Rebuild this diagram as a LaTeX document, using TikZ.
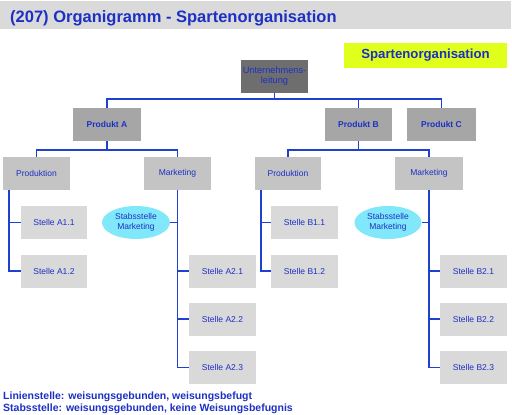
\documentclass[tikz,border=0pt]{standalone}
\usepackage{fontspec}
\setmainfont{Liberation Sans}
\usetikzlibrary{shapes.geometric}
\definecolor{tblue}{RGB}{28,48,196}
\definecolor{lblue}{RGB}{32,64,208}
\definecolor{ulgray}{RGB}{110,110,110}
\definecolor{pgray}{RGB}{166,166,166}
\definecolor{mgray}{RGB}{196,196,196}
\definecolor{sgray}{RGB}{217,217,217}
\definecolor{barg}{RGB}{218,218,218}
\definecolor{ycol}{RGB}{224,255,26}
\definecolor{cyanc}{RGB}{128,232,250}
\tikzset{
  box/.style={inner sep=0pt, minimum height=33pt, text=tblue, font=\fontsize{8.5}{10}\selectfont, align=center},
  ulbox/.style={box, fill=ulgray, minimum width=67pt, font=\fontsize{9.2}{10}\selectfont},
  prodbox/.style={box, fill=pgray, minimum width=68pt, font=\bfseries\fontsize{8.5}{10}\selectfont},
  deptbox/.style={box, fill=mgray, minimum width=67pt},
  stellebox/.style={box, fill=sgray, minimum width=67pt},
  stabs/.style={ellipse, fill=cyanc, inner sep=0pt, minimum width=68pt, minimum height=33pt, text=tblue, font=\fontsize{8.5}{10}\selectfont, align=center},
  conn/.style={draw=lblue, line width=1.8pt},
}
\begin{document}
\begin{tikzpicture}[x=1pt,y=-1pt]
\useasboundingbox (0,0) rectangle (512,415);
% title bar
\fill[barg] (0,1) rectangle (511,29);
\node[anchor=base west, inner sep=0pt, text=tblue, font=\bfseries\fontsize{16.5}{18}\selectfont] (title) at (10,22) {(207) Organigramm - Spartenorganisation};
% yellow label
\node[fill=ycol, minimum width=163pt, minimum height=25pt, inner sep=0pt, text=tblue, font=\bfseries\fontsize{13.2}{15}\selectfont] (sparte) at (425.5,55.5) {Spartenorganisation};
% top
\node[ulbox] (UL) at (274.5,76.5) {Unternehmens-\\leitung};
\node[prodbox] (PA) at (107,124.5) {Produkt A};
\node[prodbox, minimum width=67pt] (PB) at (358.5,124.5) {Produkt B};
\node[prodbox, minimum width=69pt] (PC) at (441.5,124.5) {Produkt C};
% departments
\node[deptbox] (ProdA) at (36.5,173.5) {Produktion};
\node[deptbox] (MarkA) at (177.5,173.5) {Marketing};
\node[deptbox, minimum width=66pt] (ProdB) at (288,173.5) {Produktion};
\node[deptbox, minimum width=68pt] (MarkB) at (429,173.5) {Marketing};
% Stellen A
\node[stellebox, minimum width=66pt] (A11) at (54,222.5) {Stelle A1.1};
\node[stellebox, minimum width=66pt] (A12) at (54,271) {Stelle A1.2};
\node[stabs] (SA) at (136,222.5) {Stabsstelle\\Marketing};
\node[stellebox] (A21) at (222.5,271) {Stelle A2.1};
\node[stellebox] (A22) at (222.5,319) {Stelle A2.2};
\node[stellebox] (A23) at (222.5,367.5) {Stelle A2.3};
% Stellen B
\node[stellebox] (B11) at (304.5,222.5) {Stelle B1.1};
\node[stellebox] (B12) at (304.5,271) {Stelle B1.2};
\node[stabs, minimum width=67pt] (SB) at (388,222.5) {Stabsstelle\\Marketing};
\node[stellebox] (B21) at (473.5,271) {Stelle B2.1};
\node[stellebox] (B22) at (473.5,319) {Stelle B2.2};
\node[stellebox] (B23) at (473.5,367.5) {Stelle B2.3};
% bus coordinates
\coordinate (bus1) at (274.5,99);
\coordinate (busA) at (107,150);
\coordinate (busB) at (358.5,150);
\coordinate (pa) at (9,190);
\coordinate (pb) at (261,190);
% connectors level 1
\draw[conn] (UL.south) -- (bus1);
\draw[conn] (PA.north) -- (PA.north |- bus1) -- (PC.north |- bus1) -- (PC.north);
\draw[conn] (PB.north) -- (PB.north |- bus1);
% level 2
\draw[conn] (PA.south) -- (busA);
\draw[conn] (ProdA.north) -- (ProdA.north |- busA) -- (MarkA.north |- busA) -- (MarkA.north);
\draw[conn] (PB.south) -- (busB);
\draw[conn] (ProdB.north) -- (ProdB.north |- busB) -- (MarkB.north |- busB) -- (MarkB.north);
% Produktion A
\draw[conn] (pa) |- (A12.west);
\draw[conn] (pa |- A11.west) -- (A11.west);
% Marketing A
\draw[conn] (MarkA.south) |- (A23.west);
\draw[conn] (MarkA.south |- A21.west) -- (A21.west);
\draw[conn] (MarkA.south |- A22.west) -- (A22.west);
\draw[conn] (MarkA.south |- SA.east) -- (SA.east);
% Produktion B
\draw[conn] (pb) |- (B12.west);
\draw[conn] (pb |- B11.west) -- (B11.west);
% Marketing B
\draw[conn] (MarkB.south) |- (B23.west);
\draw[conn] (MarkB.south |- B21.west) -- (B21.west);
\draw[conn] (MarkB.south |- B22.west) -- (B22.west);
\draw[conn] (MarkB.south |- SB.east) -- (SB.east);
% footer
\node[anchor=base west, inner sep=0pt, text=tblue, font=\bfseries\fontsize{10.5}{12}\selectfont] (f1) at (3,399) {Linienstelle: weisungsgebunden, weisungsbefugt};
\node[anchor=base west, inner sep=0pt, text=tblue, font=\bfseries\fontsize{10.5}{12}\selectfont] (f2) at (3,411) {Stabsstelle: weisungsgebunden, keine Weisungsbefugnis};
\end{tikzpicture}
\end{document}
